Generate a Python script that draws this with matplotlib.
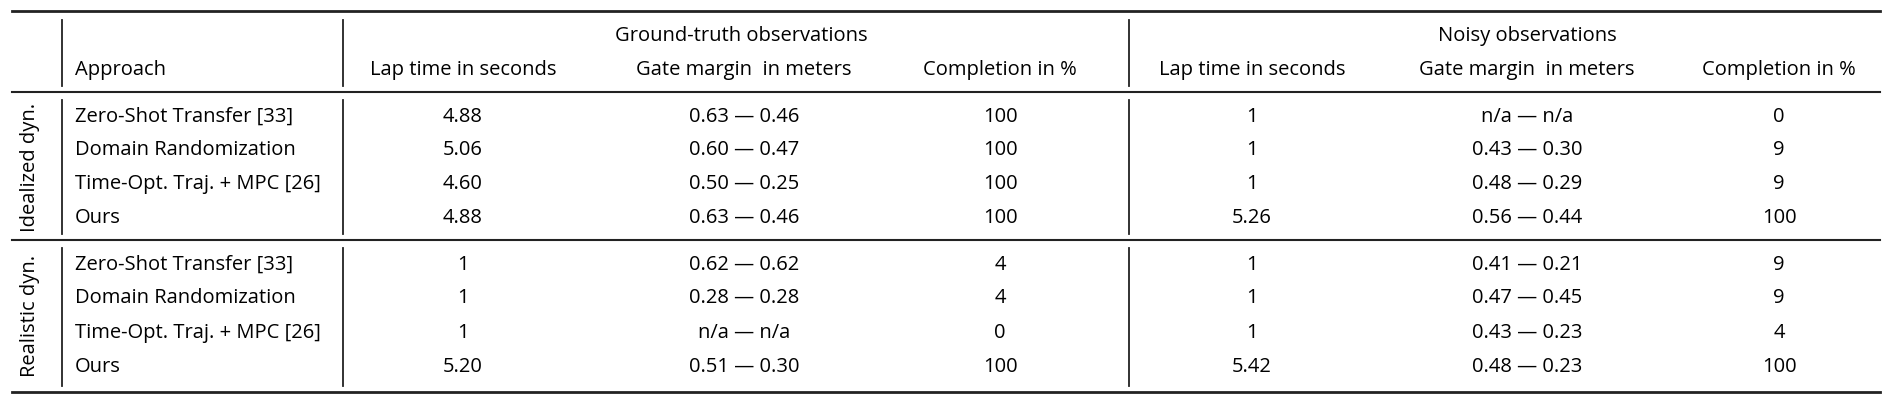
import matplotlib.pyplot as plt

plt.rcParams['font.family'] = ['Open Sans', 'DejaVu Sans']

groups = ["Idealized dyn.", "Realistic dyn."]
approaches = ["Zero-Shot Transfer [33]", "Domain Randomization", "Time-Opt. Traj. + MPC [26]", "Ours"]
col_headers = ["Lap time in seconds", "Gate margin  in meters", "Completion in %"]

gt_lap = [["4.88", "5.06", "4.60", "4.88"], ["1", "1", "1", "5.20"]]
gt_gate = [["0.63 — 0.46", "0.60 — 0.47", "0.50 — 0.25", "0.63 — 0.46"],
           ["0.62 — 0.62", "0.28 — 0.28", "n/a — n/a", "0.51 — 0.30"]]
gt_comp = [["100", "100", "100", "100"], ["4", "4", "0", "100"]]
noisy_lap = [["1", "1", "1", "5.26"], ["1", "1", "1", "5.42"]]
noisy_gate = [["n/a — n/a", "0.43 — 0.30", "0.48 — 0.29", "0.56 — 0.44"],
              ["0.41 — 0.21", "0.47 — 0.45", "0.43 — 0.23", "0.48 — 0.23"]]
noisy_comp = [["0", "9", "9", "100"], ["9", "9", "4", "100"]]

fig = plt.figure(figsize=(18.9, 4), dpi=100)
ax = fig.add_axes([0, 0, 1, 1])
ax.set_xlim(0, 1890)
ax.set_ylim(400, 0)
ax.axis('off')

fs = 14.5
col_x = [463, 744, 1000, 1252, 1527, 1779]

# horizontal rules
ax.plot([12, 1880], [11, 11], color='#222', lw=2)
ax.plot([12, 1880], [92, 92], color='#222', lw=1.5)
ax.plot([12, 1880], [240, 240], color='#222', lw=1.5)
ax.plot([12, 1880], [392, 392], color='#222', lw=2)

# vertical separators
for vx in [62, 343, 1129]:
    ax.plot([vx, vx], [20, 86], color='#222', lw=1.3)
    ax.plot([vx, vx], [100, 234], color='#222', lw=1.3)
    ax.plot([vx, vx], [248, 386], color='#222', lw=1.3)

ax.text(741, 36, "Ground-truth observations", ha='center', va='center', fontsize=fs)
ax.text(1527, 36, "Noisy observations", ha='center', va='center', fontsize=fs)
ax.text(75, 70, "Approach", ha='left', va='center', fontsize=fs)
for i, h in enumerate(col_headers * 2):
    ax.text(col_x[i], 70, h, ha='center', va='center', fontsize=fs)

row_y = [[117, 150, 184, 218], [265, 298, 333, 367]]
cols = [gt_lap, gt_gate, gt_comp, noisy_lap, noisy_gate, noisy_comp]
for g in range(2):
    mid = (row_y[g][0] + row_y[g][-1]) / 2
    ax.text(30, mid, groups[g], rotation=90, ha='center', va='center', fontsize=fs)
    for r in range(4):
        y = row_y[g][r]
        ax.text(75, y, approaches[r], ha='left', va='center', fontsize=fs)
        for c in range(6):
            ax.text(col_x[c], y, cols[c][g][r], ha='center', va='center', fontsize=fs)

fig.savefig("out.png", dpi=100)
